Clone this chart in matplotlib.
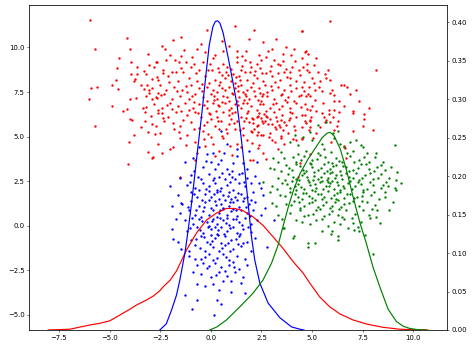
import numpy as np
import matplotlib
matplotlib.use("Agg")
import matplotlib.pyplot as plt

# scatter clouds, (x, y)
red_pts = np.array([
    # left flank
    (-5.98, 11.54), (-4.13, 10.53), (-5.71, 9.94), (-3.98, 9.94), (-3.10, 9.66), (-4.53, 9.40),
    (-3.94, 9.16), (-2.67, 9.21), (-4.64, 8.84), (-3.65, 8.88), (-3.05, 8.99), (-3.29, 8.67),
    (-3.95, 8.54), (-3.64, 8.54), (-3.18, 8.52), (-2.68, 8.32), (-3.77, 8.24), (-4.68, 8.17),
    (-3.80, 8.13), (-3.44, 7.90), (-4.89, 7.89), (-3.16, 7.89), (-5.94, 7.72), (-5.64, 7.81),
    (-4.58, 7.66), (-3.32, 7.68), (-3.06, 7.62), (-3.07, 7.47), (-3.18, 7.29), (-3.69, 7.17),
    (-3.97, 7.10), (-6.01, 7.10), (-2.68, 7.19), (-2.93, 7.12), (-4.87, 6.71), (-3.22, 6.67),
    (-3.36, 6.60), (-2.63, 6.50), (-4.16, 6.52), (-4.33, 6.46), (-3.27, 6.39), (-3.97, 5.99),
    (-3.87, 5.92), (-3.24, 5.87), (-2.73, 5.58), (-5.74, 5.58), (-3.47, 5.54), (-3.11, 5.28),
    (-3.80, 5.11), (-4.05, 4.70), (-3.10, 4.14), (-2.91, 3.82), (-4.10, 3.45),
    # top
    (2.12, 10.96), (3.21, 10.47), (4.48, 10.90), (-1.86, 10.43), (-1.48, 10.58), (-2.24, 9.94),
    (-1.32, 9.87), (-0.31, 9.72), (-0.92, 9.49), (-2.70, 9.21), (-1.78, 9.31), (-1.58, 9.16),
    (-1.25, 9.16), (-0.85, 9.08), (0.59, 9.78), (1.27, 9.78), (1.76, 9.78), (1.27, 9.46),
    (1.68, 9.31), (1.93, 9.18), (2.26, 9.05), (2.83, 9.83), (3.57, 9.63), (3.94, 9.57),
    (4.66, 9.72), (3.11, 9.31), (3.44, 9.01), (3.69, 8.80), (4.18, 9.25), (4.56, 8.93),
    (-2.36, 8.71), (-1.94, 8.65), (-1.37, 8.65), (-0.59, 8.75), (-0.13, 8.71), (0.36, 8.84),
    (0.80, 8.93), (0.53, 8.47), (1.10, 8.52), (1.47, 8.75), (1.93, 8.65), (2.42, 8.84),
    (2.75, 8.56), (3.32, 8.56), (3.90, 8.60), (4.40, 8.47),
    # right flank
    (5.89, 11.50), (4.49, 10.92), (4.68, 9.78), (4.82, 9.61), (4.49, 9.40), (5.20, 9.40),
    (4.76, 9.07), (4.76, 8.75), (4.86, 8.62), (5.30, 8.60), (5.79, 8.73), (5.63, 8.51),
    (8.18, 8.73), (5.71, 8.26), (4.99, 8.26), (4.61, 8.06), (5.09, 8.03), (4.87, 7.78),
    (4.50, 7.78), (5.32, 7.79), (5.17, 7.61), (5.47, 7.53), (5.98, 7.64), (5.89, 7.45),
    (6.42, 7.89), (6.58, 7.89), (6.72, 7.79), (7.19, 7.62), (4.59, 7.57), (4.80, 7.38),
    (4.71, 7.29), (4.45, 7.34), (4.90, 7.30), (6.09, 7.32), (5.15, 7.04), (5.56, 6.87),
    (6.34, 6.97), (7.32, 7.01), (4.66, 6.84), (5.00, 6.74), (4.76, 6.54), (4.90, 6.47),
    (5.20, 6.44), (5.83, 6.50), (6.09, 6.50), (6.35, 6.37), (7.01, 6.46), (7.56, 6.24),
    (5.83, 6.24), (4.63, 6.22), (4.50, 6.20), (4.94, 6.09), (5.60, 6.09), (6.06, 6.12),
    (5.68, 5.95), (4.92, 5.88), (4.72, 5.75), (4.51, 5.56), (5.37, 5.56), (4.84, 5.38),
    (6.09, 5.38), (6.24, 5.60), (8.02, 5.39), (7.03, 6.31), (7.57, 6.00), (4.48, 4.85),
    (5.05, 4.91), (4.89, 4.01), (4.40, 3.50), (6.58, 4.49),
    (5.4, 8.1), (6.1, 7.0), (5.5, 6.3), (6.6, 6.7), (5.2, 5.2), (7.0, 5.3), (7.8, 6.6),
    (6.9, 7.4), (5.9, 8.2), (5.1, 9.0), (7.5, 5.6), (6.3, 5.9),
    (2.01, 6.07), (2.26, 6.12), (2.50, 6.03), (2.75, 6.16), (2.91, 5.99), (3.24, 6.12),
    (3.49, 5.94), (2.09, 5.75), (2.34, 5.66), (2.58, 5.75), (2.83, 5.70), (3.16, 5.56),
    (3.41, 5.51), (3.70, 5.66), (3.90, 6.03), (4.64, 5.88), (4.89, 5.94), (4.89, 5.56),
    (4.23, 4.81), (4.48, 4.91), (2.01, 5.28), (2.26, 5.10), (2.50, 5.10), (2.91, 5.19),
    (3.16, 4.72), (3.49, 4.91), (2.09, 3.69), (2.34, 4.35), (3.57, 5.38), (4.15, 5.38),
    (5.88, 5.84), (6.62, 4.35), (6.70, 3.79), (5.96, 4.72), (5.63, 5.84), (4.31, 2.75),
    (-2.85, 3.88), (-2.43, 4.07), (-1.86, 4.44), (-0.79, 3.69), (-1.53, 2.75), (1.93, 3.69),
    # core
    (-0.5, 10.2), (0.9, 10.1), (2.6, 10.3), (3.7, 10.0), (-2.0, 9.6), (0.2, 9.6), (2.4, 9.6), (3.0, 9.9),
    (-0.05, 9.05), (1.55, 9.55), (2.75, 9.45), (-1.45, 9.55), (0.55, 10.35), (3.55, 9.25), (-0.7, 9.9),
    (4.1, 9.9), (1.9, 10.5), (-2.4, 10.1), (-0.2, 11.0), (1.2, 11.2),
    (-2.8, 8.9), (-2.2, 9.3), (-1.0, 8.9), (-0.4, 9.2), (0.1, 9.4), (0.6, 9.1), (1.0, 8.8), (1.3, 9.2),
    (2.0, 8.9), (2.5, 9.3), (2.9, 8.7), (3.3, 9.1), (4.0, 8.9), (-1.7, 8.6), (0.4, 8.6), (1.7, 8.6),
    (2.2, 8.7), (3.6, 8.6),
    (-2.35, 8.55), (-1.45, 8.85), (-0.75, 8.55), (0.05, 8.75), (0.85, 8.45), (1.55, 8.95), (2.15, 8.45),
    (2.95, 8.95), (3.75, 8.35), (4.35, 8.75), (0.75, 8.65), (1.25, 8.35), (2.55, 8.55),
    (-2.6, 8.2), (-2.1, 8.4), (-1.6, 8.1), (-1.1, 8.3), (-0.7, 8.1), (-0.3, 8.4), (0.2, 8.2), (0.7, 8.3),
    (1.0, 8.1), (1.4, 8.4), (1.8, 8.2), (2.3, 8.3), (2.6, 8.1), (3.0, 8.4), (3.4, 8.2), (3.9, 8.3),
    (4.2, 8.1), (-0.1, 8.0), (1.2, 8.0), (2.1, 8.0), (1.45, 8.15), (0.45, 8.05), (-0.45, 7.95),
    (3.15, 8.05), (-1.25, 7.85), (-2.05, 8.05), (-2.9, 8.25),
    (-2.9, 7.7), (-2.5, 7.9), (-2.2, 7.6), (-1.8, 7.8), (-1.4, 7.6), (-1.0, 7.9), (-0.6, 7.7), (-0.2, 7.8),
    (0.1, 7.6), (0.4, 7.9), (0.7, 7.6), (0.9, 7.8), (1.2, 7.7), (1.5, 7.9), (1.8, 7.6), (2.0, 7.8),
    (2.4, 7.7), (2.7, 7.9), (3.0, 7.6), (3.3, 7.8), (3.6, 7.6), (3.9, 7.9), (4.2, 7.7), (-1.2, 7.5),
    (0.3, 7.5), (1.6, 7.5), (2.8, 7.5), (1.35, 7.55), (2.45, 7.45), (-2.6, 7.45),
    (-2.45, 7.35), (-1.65, 7.55), (-0.95, 7.25), (-0.45, 7.55), (0.15, 7.25), (0.55, 7.75), (1.05, 7.45),
    (1.35, 7.85), (1.75, 7.25), (2.15, 7.55), (2.55, 7.25), (2.95, 7.85), (3.45, 7.35), (3.95, 7.55),
    (4.35, 7.25),
    (-2.7, 7.2), (-2.3, 7.4), (-1.9, 7.1), (-1.5, 7.3), (-1.1, 7.1), (-0.8, 7.4), (-0.4, 7.2), (0.0, 7.4),
    (0.3, 7.1), (0.6, 7.3), (0.9, 7.0), (1.1, 7.4), (1.4, 7.2), (1.7, 7.4), (1.9, 7.1), (2.2, 7.3),
    (2.5, 7.0), (2.8, 7.3), (3.1, 7.1), (3.5, 7.4), (3.8, 7.2), (4.1, 7.0), (-0.2, 7.0), (1.3, 7.0),
    (2.6, 7.4), (0.8, 7.2), (1.65, 7.05), (2.35, 7.05), (3.65, 7.05), (0.15, 7.05),
    (-2.8, 6.8), (-2.4, 6.6), (-2.0, 6.9), (-1.6, 6.7), (-1.3, 6.9), (-0.9, 6.6), (-0.6, 6.8), (-0.2, 6.6),
    (0.1, 6.9), (0.4, 6.7), (0.7, 6.9), (1.0, 6.6), (1.2, 6.8), (1.5, 6.6), (1.8, 6.9), (2.0, 6.7),
    (2.3, 6.5), (2.6, 6.8), (2.9, 6.6), (3.2, 6.9), (3.5, 6.7), (3.9, 6.6), (4.2, 6.9), (0.9, 6.5),
    (1.6, 6.9), (-1.1, 6.5), (0.35, 6.75), (3.05, 6.85), (-1.9, 6.55),
    (-2.15, 6.75), (-1.45, 6.45), (-0.85, 6.95), (-0.35, 6.75), (0.25, 6.45), (0.55, 6.95), (1.35, 6.75),
    (1.85, 6.45), (2.45, 6.85), (2.75, 6.45), (3.35, 6.55), (3.75, 6.95), (4.45, 6.65),
    (-2.6, 6.3), (-2.1, 6.1), (-1.7, 6.4), (-1.2, 6.2), (-0.8, 6.4), (-0.5, 6.1), (-0.1, 6.3), (0.3, 6.1),
    (0.6, 6.4), (0.9, 6.2), (1.2, 6.4), (1.5, 6.1), (1.8, 6.3), (2.1, 6.0), (2.4, 6.3), (2.8, 6.1),
    (3.1, 6.4), (3.5, 6.2), (3.9, 6.4), (4.2, 6.1), (0.0, 6.0), (1.0, 6.0), (1.05, 6.35), (-0.05, 6.25),
    (2.65, 6.25), (2.35, 6.15), (-0.65, 6.35), (4.0, 6.3), (-2.4, 6.35), (-2.95, 6.15),
    (-2.9, 5.7), (-2.3, 5.9), (-1.5, 5.6), (-1.0, 5.8), (-0.6, 5.5), (-0.2, 5.8), (0.2, 5.6), (0.5, 5.9),
    (0.9, 5.7), (1.3, 5.9), (1.6, 5.5), (1.9, 5.8), (2.3, 5.6), (2.7, 5.9), (3.0, 5.7), (3.6, 5.8),
    (4.1, 5.6), (1.65, 5.85), (3.25, 5.9),
    (-2.35, 6.05), (-1.85, 5.75), (-1.35, 5.95), (-0.35, 5.65), (0.35, 5.85), (0.75, 5.45), (1.15, 5.75),
    (1.75, 6.05), (2.15, 5.45), (2.55, 5.85), (3.35, 5.65), (3.85, 5.95),
    (-2.5, 5.2), (-1.8, 5.4), (-1.2, 5.1), (-0.4, 5.3), (0.0, 5.0), (0.4, 5.4), (0.8, 5.2), (1.2, 5.4),
    (1.6, 5.1), (2.0, 5.3), (2.6, 5.1), (3.2, 5.4), (3.8, 5.2), (-2.75, 5.15),
    (-1.55, 5.25), (-0.85, 5.45), (-0.15, 5.15), (0.55, 5.05), (1.45, 5.35), (2.35, 5.25), (2.85, 4.95),
    (3.45, 5.05), (4.05, 4.85),
    (-2.6, 4.6), (-1.5, 4.9), (-0.8, 4.7), (0.1, 4.6), (0.6, 4.9), (1.3, 4.6), (1.8, 4.8), (2.4, 4.5),
    (3.0, 4.8), (3.6, 4.6), (-0.35, 4.85), (0.95, 4.45), (2.05, 4.65), (-1.25, 4.55), (-0.3, 4.45),
    (-2.0, 4.3), (-0.7, 4.1), (0.4, 4.2), (1.5, 4.4), (2.6, 4.1), (3.3, 4.3),
    (1.05, 3.95), (2.75, 3.75), (0.2, 3.9),
])

blue_pts = np.array([
    (0.5, 5.3), (0.1, 4.1), (-0.2, 4.0), (1.3, 4.3), (0.8, 4.6), (-0.6, 4.4), (1.9, 4.2), (0.65, 4.05),
    (-1.3, 3.6), (0.5, 3.7), (1.1, 3.5), (1.6, 3.5), (-0.4, 3.3), (0.2, 3.2), (0.8, 3.2), (1.8, 3.2),
    (-0.9, 3.8), (1.3, 3.9), (2.3, 3.6), (0.0, 3.6), (-0.25, 3.65), (0.35, 3.45),
    (-0.85, 3.05), (1.05, 3.05), (1.55, 2.95),
    (-1.0, 2.85), (-0.1, 2.9), (0.4, 2.75), (0.9, 2.9), (1.4, 2.9), (-0.5, 2.6), (0.7, 2.6), (1.2, 2.6),
    (1.8, 2.7), (0.1, 2.55), (-1.5, 2.7), (2.2, 2.8), (-0.65, 2.75), (0.15, 2.65), (0.55, 2.95),
    (1.05, 2.75), (1.65, 2.45), (-1.05, 2.45), (0.95, 2.45), (2.4, 2.4),
    (-1.2, 2.3), (-0.8, 2.1), (-0.4, 2.4), (-0.1, 2.2), (0.2, 2.4), (0.5, 2.1), (0.8, 2.3), (1.1, 2.0),
    (1.4, 2.4), (1.7, 2.2), (2.0, 2.4), (0.3, 2.0), (-0.6, 2.0), (2.5, 2.1), (-0.25, 2.05), (-2.0, 2.2),
    (-1.6, 1.7), (-1.0, 1.9), (-0.7, 1.6), (-0.3, 1.8), (0.0, 1.6), (0.3, 1.9), (0.6, 1.7), (0.9, 1.9),
    (1.2, 1.6), (1.5, 1.8), (1.8, 1.6), (2.1, 1.9), (0.4, 1.5), (-0.1, 1.95), (1.0, 1.5), (2.6, 1.7),
    (-0.85, 1.75), (-0.45, 1.45), (0.15, 1.75), (0.45, 1.95), (0.85, 1.65), (1.35, 1.85), (1.65, 1.55),
    (2.0, 1.45),
    (-1.4, 1.2), (-1.0, 1.4), (-0.6, 1.1), (-0.3, 1.3), (0.0, 1.0), (0.2, 1.4), (0.5, 1.2), (0.7, 1.45),
    (0.9, 1.1), (1.1, 1.3), (1.4, 1.05), (1.6, 1.4), (1.9, 1.2), (2.2, 1.35), (-0.1, 1.45), (0.6, 1.0),
    (1.3, 1.45), (-1.9, 1.1), (-1.45, 1.26), (-1.15, 1.05), (-0.75, 0.85), (-0.35, 1.05), (0.25, 1.15),
    (0.45, 0.85), (0.95, 1.35), (1.25, 0.85), (1.75, 1.05), (2.7, 1.0),
    (-1.5, 0.7), (-1.1, 0.9), (-0.8, 0.6), (-0.4, 0.8), (-0.1, 0.6), (0.1, 0.9), (0.4, 0.7), (0.6, 0.95),
    (0.8, 0.6), (1.0, 0.8), (1.3, 0.55), (1.5, 0.9), (1.8, 0.7), (2.1, 0.9), (0.3, 0.5), (-0.5, 0.5),
    (1.1, 0.95), (2.5, 0.6),
    (-1.3, 0.3), (-0.9, 0.1), (-0.6, 0.4), (-0.2, 0.2), (0.1, 0.4), (0.3, 0.1), (0.6, 0.3), (0.9, 0.05),
    (1.1, 0.4), (1.4, 0.2), (1.7, 0.45), (2.0, 0.1), (-0.1, 0.0), (0.8, 0.45), (2.3, 0.3),
    (-0.95, 0.45), (-0.45, 0.25), (0.05, 0.25), (0.45, 0.45), (0.75, 0.15), (1.25, 0.35), (1.55, 0.05),
    (1.95, 0.55), (-1.7, 0.4), (3.1, 0.3),
    (-1.9, -0.2), (-1.2, -0.3), (-0.7, -0.1), (-0.4, -0.4), (0.0, -0.2), (0.3, -0.45), (0.5, -0.1),
    (0.8, -0.3), (1.1, -0.05), (1.3, -0.4), (1.6, -0.2), (2.0, -0.35), (0.2, -0.05),
    (-1.05, -0.15), (-0.55, -0.25), (-0.15, -0.05), (0.35, -0.25), (0.65, -0.45), (0.95, -0.15),
    (1.45, -0.45), (1.85, -0.05),
    (-1.85, -0.75), (-1.0, -0.8), (-0.5, -0.6), (-0.2, -0.9), (0.2, -0.7), (0.5, -0.95), (0.7, -0.6),
    (1.0, -0.8), (1.4, -0.6), (1.8, -0.9), (0.0, -0.55), (-0.75, -0.75), (-0.35, -0.65), (0.05, -0.85),
    (0.35, -0.55), (0.85, -0.95), (1.25, -0.75), (1.6, -1.0), (2.2, -0.7), (-1.6, -0.9),
    (-1.45, -1.3), (-0.8, -1.1), (-0.3, -1.4), (0.1, -1.2), (0.4, -1.45), (0.7, -1.1), (1.1, -1.3),
    (1.5, -1.15), (2.0, -1.4), (-0.55, -1.25), (-0.05, -1.05), (0.55, -1.25), (0.95, -1.45),
    (1.35, -1.05), (-1.1, -1.4), (2.8, -1.2),
    (-1.1, -1.7), (-0.5, -1.9), (-0.1, -1.6), (0.3, -1.8), (0.6, -1.6), (0.9, -1.95), (1.3, -1.7),
    (1.7, -1.9), (-0.3, -1.75), (0.1, -1.95), (0.75, -1.75), (1.1, -2.05), (-0.8, -1.9),
    (-0.7, -2.2), (-0.2, -2.4), (0.2, -2.1), (0.5, -2.35), (0.9, -2.2), (1.4, -2.45), (-0.4, -2.1),
    (1.8, -2.2), (-0.1, -2.25), (0.7, -2.55), (1.15, -2.3),
    (-0.5, -2.7), (0.0, -2.9), (0.4, -2.6), (0.8, -2.8), (1.2, -2.6), (1.6, -2.9), (0.25, -2.75),
    (-0.9, -2.6),
    (-0.7, -3.25), (0.1, -3.3), (0.6, -3.1), (1.5, -3.2), (1.0, -3.1), (0.4, -3.6), (-0.3, -3.4),
    (1.0, -3.7), (1.7, -3.8), (0.3, -4.2), (0.5, -4.4), (-0.7, -4.2), (-0.95, -4.7), (0.15, -5.03),
    (-1.3, -3.9),
])

green_pts = np.array([
    (6.29, 5.32), (6.04, 5.19), (5.71, 5.84), (5.30, 5.66), (4.89, 5.28), (4.56, 5.00), (4.15, 5.10),
    (3.90, 4.72), (3.49, 4.16), (3.08, 3.79), (2.91, 3.22), (2.58, 2.47), (7.19, 4.81), (7.52, 4.44),
    (8.18, 4.07), (8.51, 3.60), (9.09, 4.53), (9.17, 2.57), (9.09, 2.10), (8.59, 1.63), (9.00, 1.35),
    (8.35, 0.13), (7.60, -0.52), (8.02, -1.61), (5.14, -0.99), (4.81, -1.18), (4.06, -0.71),
    (6.29, -0.80), (3.57, -0.15), (3.00, 1.26), (9.42, 2.42), (9.14, 2.01), (7.08, -0.24),
    (5.96, -0.47), (6.78, -0.15), (7.27, -0.06), (7.85, 0.41), (8.21, 0.88), (8.18, 0.51),
    (4.3, 4.5), (5.0, 4.8), (5.6, 4.3), (6.1, 4.9), (6.6, 4.4), (7.0, 4.2), (5.3, 4.1), (6.9, 4.7),
    (4.7, 4.2), (7.7, 4.1), (4.3, 4.0), (5.5, 4.6), (6.4, 4.6), (7.4, 4.5),
    (3.6, 3.8), (4.2, 3.6), (4.6, 3.9), (5.0, 3.7), (5.4, 3.95), (5.8, 3.6), (6.2, 3.8), (6.5, 3.55),
    (6.9, 3.9), (7.3, 3.7), (7.8, 3.6), (4.9, 3.5), (6.0, 3.5), (8.1, 3.85), (3.3, 3.6),
    (4.45, 3.7), (5.25, 3.75), (5.65, 3.85), (6.35, 3.65), (7.05, 3.55), (7.55, 3.85), (4.05, 3.85),
    (6.75, 4.05), (5.95, 4.15),
    (3.1, 3.2), (3.7, 3.4), (4.0, 3.1), (4.4, 3.35), (4.7, 3.05), (5.0, 3.3), (5.3, 3.1), (5.6, 3.45),
    (5.9, 3.2), (6.2, 3.4), (6.4, 3.05), (6.7, 3.3), (7.0, 3.1), (7.4, 3.45), (7.8, 3.2), (8.2, 3.3),
    (5.1, 3.0), (6.0, 3.0), (4.2, 3.45), (8.6, 3.1), (8.4, 3.4), (8.9, 3.3), (9.2, 3.0),
    (3.85, 3.25), (4.55, 3.15), (4.95, 3.45), (5.45, 3.25), (5.75, 3.05), (6.05, 3.35), (6.55, 3.35),
    (6.85, 3.05), (7.25, 3.25), (7.65, 3.45), (8.05, 3.05), (3.45, 3.05),
    (3.3, 2.7), (3.8, 2.9), (4.2, 2.6), (4.5, 2.85), (4.8, 2.55), (5.1, 2.8), (5.3, 2.6), (5.6, 2.95),
    (5.8, 2.7), (6.0, 2.5), (6.2, 2.85), (6.5, 2.6), (6.7, 2.95), (7.0, 2.7), (7.3, 2.55), (7.6, 2.85),
    (8.0, 2.6), (8.4, 2.9), (4.0, 2.5), (5.5, 2.5), (6.9, 2.5), (4.6, 2.95), (5.9, 2.95), (8.8, 2.7),
    (3.65, 2.55), (4.05, 2.75), (4.35, 2.55), (4.75, 2.75), (5.05, 2.55), (5.45, 2.75), (5.75, 2.55),
    (6.15, 2.65), (6.45, 2.85), (6.85, 2.75), (7.15, 2.95), (7.45, 2.65), (7.85, 2.95), (8.25, 2.65),
    (8.65, 2.45),
    (3.0, 2.2), (3.5, 2.4), (3.9, 2.1), (4.3, 2.35), (4.6, 2.05), (4.9, 2.3), (5.2, 2.1), (5.4, 2.45),
    (5.7, 2.2), (5.9, 2.4), (6.1, 2.05), (6.3, 2.3), (6.6, 2.1), (6.8, 2.4), (7.1, 2.2), (7.4, 2.35),
    (7.7, 2.05), (8.0, 2.3), (8.4, 2.1), (5.0, 2.0), (6.4, 2.0), (4.2, 2.0), (7.5, 2.0), (5.8, 2.45),
    (3.25, 2.05), (3.75, 2.35), (4.15, 2.25), (4.45, 2.15), (4.85, 2.45), (5.15, 2.35), (5.55, 2.05),
    (5.85, 2.25), (6.25, 2.45), (6.55, 2.25), (6.95, 2.05), (7.25, 2.45), (7.85, 2.45), (8.75, 2.2),
    (8.5, 2.3), (2.9, 1.9),
    (3.4, 1.7), (3.9, 1.9), (4.3, 1.6), (4.7, 1.85), (5.0, 1.55), (5.3, 1.8), (5.6, 1.6), (5.8, 1.95),
    (6.1, 1.7), (6.4, 1.9), (6.6, 1.55), (6.9, 1.8), (7.2, 1.6), (7.5, 1.9), (7.9, 1.7), (8.3, 1.5),
    (4.5, 1.5), (5.5, 1.5), (6.2, 1.5),
    (3.65, 1.65), (4.15, 1.75), (4.55, 1.85), (4.85, 1.65), (5.15, 1.95), (5.45, 1.75), (5.95, 1.55),
    (6.25, 1.85), (6.75, 1.75), (7.05, 1.55), (7.45, 1.65), (8.05, 1.9), (8.6, 1.9),
    (3.7, 1.2), (4.1, 1.4), (4.6, 1.1), (5.0, 1.35), (5.3, 1.05), (5.7, 1.3), (6.0, 1.1), (6.3, 1.45),
    (6.6, 1.2), (7.0, 1.4), (7.3, 1.1), (7.7, 1.3), (8.1, 1.15), (4.4, 1.0), (5.9, 1.0),
    (3.95, 1.15), (4.35, 1.35), (4.85, 1.25), (5.15, 1.45), (5.55, 1.15), (6.15, 1.35), (6.45, 1.05),
    (6.85, 1.25), (7.45, 1.4), (7.95, 0.95), (3.2, 1.1), (8.8, 0.9),
    (3.9, 0.7), (4.4, 0.9), (4.8, 0.6), (5.2, 0.85), (5.6, 0.55), (6.0, 0.8), (6.3, 0.6), (6.7, 0.9),
    (7.1, 0.65), (7.5, 0.85), (5.4, 0.95), (6.5, 0.5), (4.6, 0.55), (5.05, 0.65), (5.85, 0.65),
    (6.35, 0.95), (6.95, 0.45), (7.8, 0.6), (3.3, 0.6),
    (4.2, 0.3), (4.9, 0.1), (5.5, 0.35), (6.1, 0.2), (6.6, 0.4), (7.4, 0.2), (5.8, 0.0), (3.5, 0.4),
    (4.5, 0.2), (5.2, 0.3), (6.4, 0.1), (7.0, 0.15),
    (3.6, -0.15), (4.1, -0.6), (4.8, -1.0), (6.0, -0.3), (6.3, -0.6), (7.3, -0.3), (5.5, -0.3),
])

# density curves (right axis)
red_kde_x = [-8.03, -6.96, -5.98, -5.48, -4.99, -4.49, -4.0, -3.67, -3.18, -2.85, -2.52, -2.36,
             -2.0, -1.69, -1.20, -0.71, -0.21, 0.28, 0.77, 1.19, 1.60, 2.09, 2.58, 3.08, 3.57,
             4.06, 4.56, 4.89, 5.38, 5.88, 6.37, 7.03, 7.69, 8.51, 9.33, 10.16, 10.73]
red_kde_y = [0, 0.001, 0.0065, 0.0087, 0.012, 0.0195, 0.027, 0.0325, 0.039, 0.044, 0.051, 0.056,
             0.065, 0.077, 0.104, 0.126, 0.143, 0.152, 0.158, 0.158, 0.155, 0.147, 0.136, 0.121,
             0.106, 0.089, 0.074, 0.061, 0.043, 0.030, 0.021, 0.013, 0.0078, 0.0035, 0.001,
             0.0003, 0]

blue_kde_x = [-2.52, -2.2, -1.94, -1.7, -1.53, -1.28, -1.12, -0.95, -0.82, -0.65, -0.45, -0.25,
              -0.08, 0.1, 0.22, 0.33, 0.45, 0.61, 0.85, 1.10, 1.30, 1.50, 1.68, 1.84, 2.01, 2.17,
              2.42, 2.83, 3.41, 3.99, 4.4, 4.6]
blue_kde_y = [0, 0.008, 0.026, 0.045, 0.065, 0.10, 0.13, 0.165, 0.195, 0.235, 0.28, 0.33,
              0.37, 0.394, 0.401, 0.402, 0.399, 0.386, 0.355, 0.321, 0.292, 0.25, 0.208, 0.165,
              0.121, 0.091, 0.061, 0.035, 0.016, 0.004, 0.001, 0]

green_kde_x = [-0.05, 0.3, 0.77, 1.43, 2.09, 2.58, 3.0, 3.32, 3.6, 3.85, 4.1, 4.4, 4.8, 5.2, 5.5,
               5.75, 5.9, 6.1, 6.4, 6.7, 7.03, 7.36, 7.69, 8.01, 8.35, 8.76, 9.17, 9.5, 9.83,
               10.2, 10.65]
green_kde_y = [0, 0.004, 0.013, 0.030, 0.048, 0.065, 0.087, 0.110, 0.138, 0.162, 0.183, 0.203,
               0.222, 0.238, 0.250, 0.256, 0.257, 0.252, 0.235, 0.208, 0.173, 0.140, 0.112,
               0.082, 0.056, 0.027, 0.011, 0.005, 0.002, 0.0005, 0]

plt.rcParams['font.size'] = 10.5

fig = plt.figure(figsize=(10, 348 / 47.4), dpi=47.4)
ax = fig.add_axes([29.3 / 474, 1 - 330 / 348, (447 - 29.3) / 474, (330 - 5.3) / 348])

ax.scatter(red_pts[:, 0], red_pts[:, 1], c='r', s=13, linewidths=0)
ax.scatter(blue_pts[:, 0], blue_pts[:, 1], c='b', s=13, linewidths=0)
ax.scatter(green_pts[:, 0], green_pts[:, 1], c='g', s=13, linewidths=0)

ax2 = ax.twinx()
ax2.plot(red_kde_x, red_kde_y, color='r', lw=1.8)
ax2.plot(blue_kde_x, blue_kde_y, color='b', lw=1.8)
ax2.plot(green_kde_x, green_kde_y, color='g', lw=1.8)
ax2.set_ylim(bottom=0)

fig.savefig('out.png', dpi=47.4)
